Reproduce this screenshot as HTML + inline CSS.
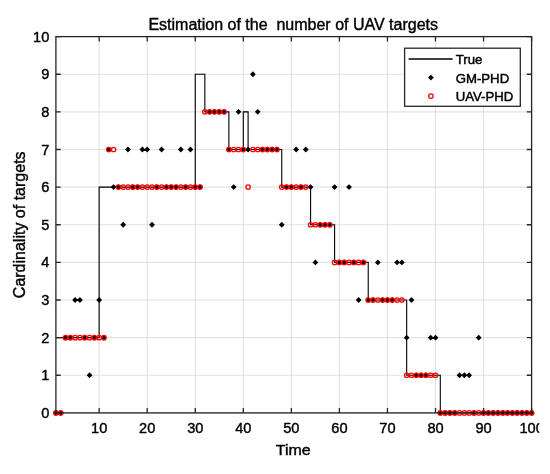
<!DOCTYPE html>
<html><head><meta charset="utf-8"><style>
html,body{margin:0;padding:0;background:#fff;}
body{width:550px;height:474px;overflow:hidden;position:relative;}
</style></head><body>
<svg width="550" height="474" viewBox="0 0 550 474" style="position:absolute;left:0;top:0">
<rect width="550" height="474" fill="#fff"/>
<path d="M99.15 36.60V412.90M147.20 36.60V412.90M195.25 36.60V412.90M243.30 36.60V412.90M291.35 36.60V412.90M339.40 36.60V412.90M387.45 36.60V412.90M435.50 36.60V412.90M483.55 36.60V412.90M531.60 36.60V412.90M55.90 412.90H531.60M55.90 375.27H531.60M55.90 337.64H531.60M55.90 300.01H531.60M55.90 262.38H531.60M55.90 224.75H531.60M55.90 187.12H531.60M55.90 149.49H531.60M55.90 111.86H531.60M55.90 74.23H531.60M55.90 36.60H531.60" stroke="#e2e2e2" stroke-width="1.15" fill="none"/>
<path d="M55.90 337.64H99.15V187.12H195.25V74.23H204.86V111.86H228.88V149.49H243.30V111.86H248.10V149.49H281.74V187.12H310.57V224.75H334.59V262.38H368.23V300.01H406.67V375.27H440.30V412.90H531.60" stroke="#000" stroke-width="1.1" fill="none"/>
<path d="M55.90 410.00L58.80 412.90L55.90 415.80L53.00 412.90ZM60.71 410.00L63.61 412.90L60.71 415.80L57.81 412.90ZM65.51 334.74L68.41 337.64L65.51 340.54L62.61 337.64ZM70.32 334.74L73.22 337.64L70.32 340.54L67.42 337.64ZM75.12 297.11L78.02 300.01L75.12 302.91L72.22 300.01ZM79.93 297.11L82.83 300.01L79.93 302.91L77.03 300.01ZM84.73 334.74L87.63 337.64L84.73 340.54L81.83 337.64ZM89.54 372.37L92.44 375.27L89.54 378.17L86.64 375.27ZM94.34 334.74L97.24 337.64L94.34 340.54L91.44 337.64ZM99.15 297.11L102.05 300.01L99.15 302.91L96.25 300.01ZM103.95 334.74L106.85 337.64L103.95 340.54L101.05 337.64ZM108.76 146.59L111.66 149.49L108.76 152.39L105.86 149.49ZM113.56 184.22L116.46 187.12L113.56 190.02L110.66 187.12ZM118.37 184.22L121.27 187.12L118.37 190.02L115.47 187.12ZM123.17 221.85L126.07 224.75L123.17 227.65L120.27 224.75ZM127.98 146.59L130.88 149.49L127.98 152.39L125.08 149.49ZM132.78 184.22L135.68 187.12L132.78 190.02L129.88 187.12ZM137.59 184.22L140.49 187.12L137.59 190.02L134.69 187.12ZM142.39 146.59L145.29 149.49L142.39 152.39L139.49 149.49ZM147.20 146.59L150.10 149.49L147.20 152.39L144.30 149.49ZM152.00 221.85L154.90 224.75L152.00 227.65L149.10 224.75ZM156.81 184.22L159.71 187.12L156.81 190.02L153.91 187.12ZM161.61 146.59L164.51 149.49L161.61 152.39L158.71 149.49ZM166.42 184.22L169.32 187.12L166.42 190.02L163.52 187.12ZM171.22 184.22L174.12 187.12L171.22 190.02L168.32 187.12ZM176.03 184.22L178.93 187.12L176.03 190.02L173.13 187.12ZM180.83 146.59L183.73 149.49L180.83 152.39L177.93 149.49ZM185.64 184.22L188.54 187.12L185.64 190.02L182.74 187.12ZM190.44 146.59L193.34 149.49L190.44 152.39L187.54 149.49ZM195.25 184.22L198.15 187.12L195.25 190.02L192.35 187.12ZM200.05 184.22L202.95 187.12L200.05 190.02L197.15 187.12ZM209.66 108.96L212.56 111.86L209.66 114.76L206.76 111.86ZM214.47 108.96L217.37 111.86L214.47 114.76L211.57 111.86ZM219.27 108.96L222.17 111.86L219.27 114.76L216.37 111.86ZM224.08 108.96L226.98 111.86L224.08 114.76L221.18 111.86ZM228.88 146.59L231.78 149.49L228.88 152.39L225.98 149.49ZM233.69 184.22L236.59 187.12L233.69 190.02L230.79 187.12ZM238.49 108.96L241.39 111.86L238.49 114.76L235.59 111.86ZM243.30 146.59L246.20 149.49L243.30 152.39L240.40 149.49ZM248.10 146.59L251.00 149.49L248.10 152.39L245.20 149.49ZM252.91 71.33L255.81 74.23L252.91 77.13L250.01 74.23ZM257.71 108.96L260.61 111.86L257.71 114.76L254.81 111.86ZM262.52 146.59L265.42 149.49L262.52 152.39L259.62 149.49ZM267.32 146.59L270.22 149.49L267.32 152.39L264.42 149.49ZM272.13 146.59L275.03 149.49L272.13 152.39L269.23 149.49ZM276.93 146.59L279.83 149.49L276.93 152.39L274.03 149.49ZM281.74 221.85L284.64 224.75L281.74 227.65L278.84 224.75ZM286.54 184.22L289.44 187.12L286.54 190.02L283.64 187.12ZM291.35 184.22L294.25 187.12L291.35 190.02L288.45 187.12ZM296.15 146.59L299.05 149.49L296.15 152.39L293.25 149.49ZM300.96 184.22L303.86 187.12L300.96 190.02L298.06 187.12ZM305.76 146.59L308.66 149.49L305.76 152.39L302.86 149.49ZM310.57 184.22L313.47 187.12L310.57 190.02L307.67 187.12ZM315.37 259.48L318.27 262.38L315.37 265.28L312.47 262.38ZM320.18 221.85L323.08 224.75L320.18 227.65L317.28 224.75ZM324.98 221.85L327.88 224.75L324.98 227.65L322.08 224.75ZM329.79 221.85L332.69 224.75L329.79 227.65L326.89 224.75ZM334.59 184.22L337.49 187.12L334.59 190.02L331.69 187.12ZM339.40 259.48L342.30 262.38L339.40 265.28L336.50 262.38ZM344.20 259.48L347.10 262.38L344.20 265.28L341.30 262.38ZM349.01 184.22L351.91 187.12L349.01 190.02L346.11 187.12ZM353.81 259.48L356.71 262.38L353.81 265.28L350.91 262.38ZM358.62 297.11L361.52 300.01L358.62 302.91L355.72 300.01ZM363.42 259.48L366.32 262.38L363.42 265.28L360.52 262.38ZM368.23 297.11L371.13 300.01L368.23 302.91L365.33 300.01ZM373.03 297.11L375.93 300.01L373.03 302.91L370.13 300.01ZM377.84 259.48L380.74 262.38L377.84 265.28L374.94 262.38ZM382.64 297.11L385.54 300.01L382.64 302.91L379.74 300.01ZM387.45 297.11L390.35 300.01L387.45 302.91L384.55 300.01ZM392.25 297.11L395.15 300.01L392.25 302.91L389.35 300.01ZM397.06 259.48L399.96 262.38L397.06 265.28L394.16 262.38ZM401.86 259.48L404.76 262.38L401.86 265.28L398.96 262.38ZM406.67 334.74L409.57 337.64L406.67 340.54L403.77 337.64ZM411.47 297.11L414.37 300.01L411.47 302.91L408.57 300.01ZM416.28 372.37L419.18 375.27L416.28 378.17L413.38 375.27ZM421.08 372.37L423.98 375.27L421.08 378.17L418.18 375.27ZM425.89 372.37L428.79 375.27L425.89 378.17L422.99 375.27ZM430.69 334.74L433.59 337.64L430.69 340.54L427.79 337.64ZM435.50 334.74L438.40 337.64L435.50 340.54L432.60 337.64ZM440.30 410.00L443.20 412.90L440.30 415.80L437.40 412.90ZM445.11 410.00L448.01 412.90L445.11 415.80L442.21 412.90ZM449.91 410.00L452.81 412.90L449.91 415.80L447.01 412.90ZM454.72 410.00L457.62 412.90L454.72 415.80L451.82 412.90ZM459.52 372.37L462.42 375.27L459.52 378.17L456.62 375.27ZM464.33 372.37L467.23 375.27L464.33 378.17L461.43 375.27ZM469.13 372.37L472.03 375.27L469.13 378.17L466.23 375.27ZM473.94 410.00L476.84 412.90L473.94 415.80L471.04 412.90ZM478.74 334.74L481.64 337.64L478.74 340.54L475.84 337.64ZM483.55 410.00L486.45 412.90L483.55 415.80L480.65 412.90ZM488.35 410.00L491.25 412.90L488.35 415.80L485.45 412.90ZM493.16 410.00L496.06 412.90L493.16 415.80L490.26 412.90ZM497.96 410.00L500.86 412.90L497.96 415.80L495.06 412.90ZM502.77 410.00L505.67 412.90L502.77 415.80L499.87 412.90ZM507.57 410.00L510.47 412.90L507.57 415.80L504.67 412.90ZM512.38 410.00L515.28 412.90L512.38 415.80L509.48 412.90ZM517.18 410.00L520.08 412.90L517.18 415.80L514.28 412.90ZM521.99 410.00L524.89 412.90L521.99 415.80L519.09 412.90ZM526.79 410.00L529.69 412.90L526.79 415.80L523.89 412.90ZM531.60 410.00L534.50 412.90L531.60 415.80L528.70 412.90Z" fill="#000"/>
<g fill="none" stroke="#f00" stroke-width="1.3"><circle cx="55.90" cy="412.90" r="2.2"/><circle cx="60.71" cy="412.90" r="2.2"/><circle cx="65.51" cy="337.64" r="2.2"/><circle cx="70.32" cy="337.64" r="2.2"/><circle cx="75.12" cy="337.64" r="2.2"/><circle cx="79.93" cy="337.64" r="2.2"/><circle cx="84.73" cy="337.64" r="2.2"/><circle cx="89.54" cy="337.64" r="2.2"/><circle cx="94.34" cy="337.64" r="2.2"/><circle cx="99.15" cy="337.64" r="2.2"/><circle cx="103.95" cy="337.64" r="2.2"/><circle cx="108.76" cy="149.49" r="2.2"/><circle cx="113.56" cy="149.49" r="2.2"/><circle cx="118.37" cy="187.12" r="2.2"/><circle cx="123.17" cy="187.12" r="2.2"/><circle cx="127.98" cy="187.12" r="2.2"/><circle cx="132.78" cy="187.12" r="2.2"/><circle cx="137.59" cy="187.12" r="2.2"/><circle cx="142.39" cy="187.12" r="2.2"/><circle cx="147.20" cy="187.12" r="2.2"/><circle cx="152.00" cy="187.12" r="2.2"/><circle cx="156.81" cy="187.12" r="2.2"/><circle cx="161.61" cy="187.12" r="2.2"/><circle cx="166.42" cy="187.12" r="2.2"/><circle cx="171.22" cy="187.12" r="2.2"/><circle cx="176.03" cy="187.12" r="2.2"/><circle cx="180.83" cy="187.12" r="2.2"/><circle cx="185.64" cy="187.12" r="2.2"/><circle cx="190.44" cy="187.12" r="2.2"/><circle cx="195.25" cy="187.12" r="2.2"/><circle cx="200.05" cy="187.12" r="2.2"/><circle cx="204.86" cy="111.86" r="2.2"/><circle cx="209.66" cy="111.86" r="2.2"/><circle cx="214.47" cy="111.86" r="2.2"/><circle cx="219.27" cy="111.86" r="2.2"/><circle cx="224.08" cy="111.86" r="2.2"/><circle cx="228.88" cy="149.49" r="2.2"/><circle cx="233.69" cy="149.49" r="2.2"/><circle cx="238.49" cy="149.49" r="2.2"/><circle cx="243.30" cy="149.49" r="2.2"/><circle cx="248.10" cy="187.12" r="2.2"/><circle cx="252.91" cy="149.49" r="2.2"/><circle cx="257.71" cy="149.49" r="2.2"/><circle cx="262.52" cy="149.49" r="2.2"/><circle cx="267.32" cy="149.49" r="2.2"/><circle cx="272.13" cy="149.49" r="2.2"/><circle cx="276.93" cy="149.49" r="2.2"/><circle cx="281.74" cy="187.12" r="2.2"/><circle cx="286.54" cy="187.12" r="2.2"/><circle cx="291.35" cy="187.12" r="2.2"/><circle cx="296.15" cy="187.12" r="2.2"/><circle cx="300.96" cy="187.12" r="2.2"/><circle cx="305.76" cy="187.12" r="2.2"/><circle cx="310.57" cy="224.75" r="2.2"/><circle cx="315.37" cy="224.75" r="2.2"/><circle cx="320.18" cy="224.75" r="2.2"/><circle cx="324.98" cy="224.75" r="2.2"/><circle cx="329.79" cy="224.75" r="2.2"/><circle cx="334.59" cy="262.38" r="2.2"/><circle cx="339.40" cy="262.38" r="2.2"/><circle cx="344.20" cy="262.38" r="2.2"/><circle cx="349.01" cy="262.38" r="2.2"/><circle cx="353.81" cy="262.38" r="2.2"/><circle cx="358.62" cy="262.38" r="2.2"/><circle cx="363.42" cy="262.38" r="2.2"/><circle cx="368.23" cy="300.01" r="2.2"/><circle cx="373.03" cy="300.01" r="2.2"/><circle cx="377.84" cy="300.01" r="2.2"/><circle cx="382.64" cy="300.01" r="2.2"/><circle cx="387.45" cy="300.01" r="2.2"/><circle cx="392.25" cy="300.01" r="2.2"/><circle cx="397.06" cy="300.01" r="2.2"/><circle cx="401.86" cy="300.01" r="2.2"/><circle cx="406.67" cy="375.27" r="2.2"/><circle cx="411.47" cy="375.27" r="2.2"/><circle cx="416.28" cy="375.27" r="2.2"/><circle cx="421.08" cy="375.27" r="2.2"/><circle cx="425.89" cy="375.27" r="2.2"/><circle cx="430.69" cy="375.27" r="2.2"/><circle cx="435.50" cy="375.27" r="2.2"/><circle cx="440.30" cy="412.90" r="2.2"/><circle cx="445.11" cy="412.90" r="2.2"/><circle cx="449.91" cy="412.90" r="2.2"/><circle cx="454.72" cy="412.90" r="2.2"/><circle cx="459.52" cy="412.90" r="2.2"/><circle cx="464.33" cy="412.90" r="2.2"/><circle cx="469.13" cy="412.90" r="2.2"/><circle cx="473.94" cy="412.90" r="2.2"/><circle cx="478.74" cy="412.90" r="2.2"/><circle cx="483.55" cy="412.90" r="2.2"/><circle cx="488.35" cy="412.90" r="2.2"/><circle cx="493.16" cy="412.90" r="2.2"/><circle cx="497.96" cy="412.90" r="2.2"/><circle cx="502.77" cy="412.90" r="2.2"/><circle cx="507.57" cy="412.90" r="2.2"/><circle cx="512.38" cy="412.90" r="2.2"/><circle cx="517.18" cy="412.90" r="2.2"/><circle cx="521.99" cy="412.90" r="2.2"/><circle cx="526.79" cy="412.90" r="2.2"/><circle cx="531.60" cy="412.90" r="2.2"/></g>
<rect x="55.90" y="36.60" width="475.70" height="376.30" fill="none" stroke="#262626" stroke-width="1.3"/>
<path d="M99.15 412.90V408.10M99.15 36.60V41.40M147.20 412.90V408.10M147.20 36.60V41.40M195.25 412.90V408.10M195.25 36.60V41.40M243.30 412.90V408.10M243.30 36.60V41.40M291.35 412.90V408.10M291.35 36.60V41.40M339.40 412.90V408.10M339.40 36.60V41.40M387.45 412.90V408.10M387.45 36.60V41.40M435.50 412.90V408.10M435.50 36.60V41.40M483.55 412.90V408.10M483.55 36.60V41.40M531.60 412.90V408.10M531.60 36.60V41.40M55.90 412.90H60.70M531.60 412.90H526.80M55.90 375.27H60.70M531.60 375.27H526.80M55.90 337.64H60.70M531.60 337.64H526.80M55.90 300.01H60.70M531.60 300.01H526.80M55.90 262.38H60.70M531.60 262.38H526.80M55.90 224.75H60.70M531.60 224.75H526.80M55.90 187.12H60.70M531.60 187.12H526.80M55.90 149.49H60.70M531.60 149.49H526.80M55.90 111.86H60.70M531.60 111.86H526.80M55.90 74.23H60.70M531.60 74.23H526.80M55.90 36.60H60.70M531.60 36.60H526.80" stroke="#262626" stroke-width="1.3" fill="none"/>
<g font-family="Liberation Sans, Arial, sans-serif" font-size="14.6" fill="#000" stroke="#000" stroke-width="0.4"><text x="99.15" y="433.1" text-anchor="middle">10</text><text x="147.20" y="433.1" text-anchor="middle">20</text><text x="195.25" y="433.1" text-anchor="middle">30</text><text x="243.30" y="433.1" text-anchor="middle">40</text><text x="291.35" y="433.1" text-anchor="middle">50</text><text x="339.40" y="433.1" text-anchor="middle">60</text><text x="387.45" y="433.1" text-anchor="middle">70</text><text x="435.50" y="433.1" text-anchor="middle">80</text><text x="483.55" y="433.1" text-anchor="middle">90</text><text x="531.60" y="433.1" text-anchor="middle">100</text><text x="49.3" y="418.00" text-anchor="end">0</text><text x="49.3" y="380.37" text-anchor="end">1</text><text x="49.3" y="342.74" text-anchor="end">2</text><text x="49.3" y="305.11" text-anchor="end">3</text><text x="49.3" y="267.48" text-anchor="end">4</text><text x="49.3" y="229.85" text-anchor="end">5</text><text x="49.3" y="192.22" text-anchor="end">6</text><text x="49.3" y="154.59" text-anchor="end">7</text><text x="49.3" y="116.96" text-anchor="end">8</text><text x="49.3" y="79.33" text-anchor="end">9</text><text x="49.3" y="41.70" text-anchor="end">10</text></g>
<rect x="539.3" y="414" width="11" height="26" fill="#fff"/>
<text font-family="Liberation Sans, Arial, sans-serif" font-size="14.8" transform="translate(293.3 454.6) scale(1.08 1)" text-anchor="middle" fill="#000" stroke="#000" stroke-width="0.4">Time</text>
<text font-family="Liberation Sans, Arial, sans-serif" font-size="16" transform="translate(24.6 224.8) rotate(-90)" text-anchor="middle" fill="#000" stroke="#000" stroke-width="0.4">Cardinality of targets</text>
<text font-family="Liberation Sans, Arial, sans-serif" font-size="16" x="293.2" y="30.1" text-anchor="middle" fill="#000" stroke="#000" stroke-width="0.4" xml:space="preserve" style="white-space:pre">Estimation of the  number of UAV targets</text>
<rect x="404.6" y="48.2" width="115.7" height="58.1" fill="#fff" stroke="#262626" stroke-width="1.3"/>
<path d="M408.6 59.0H452.6" stroke="#000" stroke-width="1.3"/>
<path d="M430.9 74.69999999999999L433.79999999999995 77.6L430.9 80.5L428.0 77.6Z" fill="#000"/>
<circle cx="430.9" cy="96.1" r="2.2" fill="none" stroke="#f00" stroke-width="1.3"/>
<g font-family="Liberation Sans, Arial, sans-serif" font-size="13.2" fill="#000" stroke="#000" stroke-width="0.45"><text x="455.7" y="64.1">True</text><text x="455.7" y="82.7">GM-PHD</text><text x="455.7" y="101.3">UAV-PHD</text></g>
</svg>
</body></html>
